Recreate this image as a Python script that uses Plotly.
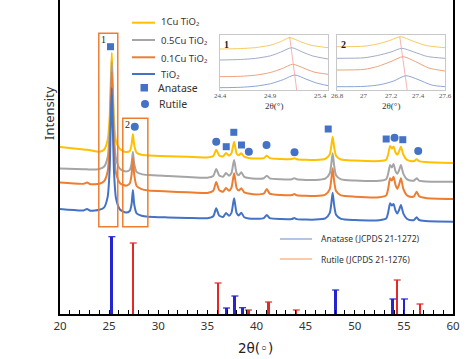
import plotly.graph_objects as go

# ---------------- data ----------------
TWO_THETA = [20, 22.4, 22.75, 23.1, 24.0, 24.5, 24.85, 25.05, 25.17, 25.27, 25.37, 25.5, 25.7, 26.1, 26.7,
             27.1, 27.28, 27.42, 27.56, 27.8, 28.3, 29, 31, 33,
             35.0, 35.6, 35.9, 36.2, 36.6, 36.9, 37.2, 37.45, 37.72, 37.98, 38.2, 38.45, 38.75, 39.2,
             40.0, 40.75, 41.05, 41.35, 42.5, 43.6, 43.85, 44.1, 46.0,
             47.0, 47.45, 47.6, 47.75, 47.9, 48.1, 48.6, 50, 52.5,
             53.2, 53.4, 53.6, 53.78, 53.95, 54.15, 54.33, 54.5, 54.7, 54.95, 55.3, 55.8,
             56.05, 56.3, 56.55, 57.2, 60]

CU1_TIO2 = [167, 164.5, 164.2, 163.8, 162.3, 164.5, 174, 196, 233, 261, 232, 193, 173, 165, 162,
            163, 169, 180, 168.5, 161.2, 159.2, 158.5, 157.8, 157.3,
            156.6, 158, 164.2, 158.5, 157.6, 161, 158.4, 160.7, 172.3, 160.5, 158.7, 160.8, 157.3, 156.1,
            155.5, 155.9, 158.3, 155.9, 155, 154.9, 155.8, 154.8, 154,
            155.1, 159.6, 167, 177.3, 167, 158.2, 154.5, 153.5, 153,
            154.3, 159.8, 168, 165.5, 167.3, 161.5, 159.2, 162.2, 167.3, 159.2, 154.3, 152.8,
            153, 154.8, 152.9, 152, 151]

CU05_TIO2 = [145.5, 144.8, 144.7, 144.4, 145, 147.5, 156.8, 180.6, 221.5, 252, 221, 178.2, 155.4, 145.2, 142.5,
             144.1, 150, 162.3, 149.8, 142.1, 139.9, 139, 138, 137,
             136.3, 138, 145, 138.6, 137.3, 141, 138.3, 141, 154, 140.8, 138.8, 141.7, 137.1, 135.9,
             135.3, 135.8, 138.3, 135.7, 134.8, 134.8, 135.8, 134.7, 134,
             135.3, 140.5, 148.8, 160.7, 148.7, 138.8, 134.6, 133.5, 133.2,
             134.7, 140.3, 149, 146.5, 150, 142.9, 140.2, 143.4, 149, 140.2, 134.9, 133.2,
             133.5, 135.7, 133.4, 132.6, 132.3]

CU01_TIO2 = [131.5, 130.2, 131.5, 129.8, 130.3, 132.9, 142.5, 167.4, 210, 242, 209.6, 164.7, 141.2, 130.9, 128.3,
             130.5, 139, 156, 138.8, 128, 124.9, 123.5, 122.5, 121.7,
             121.1, 123.2, 132, 123.9, 122.2, 126, 123.3, 126.2, 140.7, 125.9, 123.4, 125.7, 121.6, 120.5,
             119.6, 120.5, 125, 120.4, 119, 118.9, 120, 118.8, 118,
             119.3, 124.6, 133.4, 145.7, 133.3, 122.9, 118.6, 117.3, 116.8,
             118.6, 125.2, 135.7, 133.5, 137.3, 129, 125.2, 129, 135.7, 125.1, 118.8, 117.1,
             117.8, 122.3, 117.7, 116, 115]

TIO2 = [105, 103.6, 105, 103.2, 104.2, 106.7, 117.1, 144, 190.9, 226, 190.5, 141.4, 115.7, 104.5, 101.4,
        103, 109.5, 124, 109.3, 100.6, 98.3, 97.3, 96.6, 96.1,
        95.8, 97.7, 105.7, 98.4, 97, 101, 98.3, 101.1, 115.7, 101, 98.6, 101.3, 96.8, 95.6,
        95.2, 95.9, 99, 95.8, 94.9, 95, 96, 94.9, 94.4,
        95.6, 100.9, 109.2, 121.3, 109.1, 99.2, 95.1, 94, 93.8,
        95.4, 101.4, 110.7, 108.5, 110, 103.4, 100.5, 103.6, 109, 100.4, 95.3, 93.7,
        94.1, 96.7, 94, 93, 92.3]

SERIES_NAMES = ["1Cu TiO₂", "0.5Cu TiO₂", "0.1Cu TiO₂", "TiO₂"]

# phase markers above the patterns
ANATASE_MARK_X = [25.14, 36.92, 37.69, 38.47, 47.30, 53.20, 54.89]
ANATASE_MARK_Y = [267.3, 167.3, 181.7, 169, 185, 175, 174.3]
RUTILE_MARK_X = [27.61, 35.90, 39.22, 41.02, 43.87, 54.05, 56.46]
RUTILE_MARK_Y = [187.3, 172.3, 162.3, 169, 161.7, 176.3, 163]

# reference stick patterns
ANATASE_REF_POS = [25.28, 36.95, 37.80, 38.58, 48.05, 53.89, 55.06]
ANATASE_REF_INT = [77.3, 6, 18, 6.3, 24, 15, 15]
RUTILE_REF_POS = [27.45, 36.09, 39.19, 41.23, 44.05, 54.32, 56.64]
RUTILE_REF_INT = [71, 31, 4, 12, 4, 34, 10]

# inset 1 (anatase 101)
IN1_X = {
    "y": [24.4, 24.6, 24.75, 24.9, 25.0, 25.09, 25.2, 25.3, 25.47],
    "g": [24.4, 24.6, 24.75, 24.9, 25.0, 25.11, 25.22, 25.32, 25.47],
    "o": [24.4, 24.6, 24.75, 24.9, 25.02, 25.12, 25.23, 25.33, 25.47],
    "b": [24.4, 24.6, 24.75, 24.9, 25.03, 25.14, 25.25, 25.35, 25.47],
}
IN1_Y = {
    "y": [41, 41.4, 42.4, 44.8, 48.3, 52.3, 48.2, 44.8, 42.3],
    "g": [30, 30.5, 31.6, 34.2, 37.8, 42.3, 37.8, 34, 31],
    "o": [13.3, 13.7, 14.8, 17.5, 21.6, 25.7, 21.8, 18, 15.7],
    "b": [2.3, 2.7, 3.8, 6.3, 10.5, 15, 11, 7.2, 4.3],
}
IN1_SHIFT_X = [25.09, 25.16]
IN1_SHIFT_Y = [53.3, 0]
IN1_TICKS = [24.4, 24.9, 25.4]
IN1_TICKTEXT = ["24.4", "24.9", "25.4"]

# inset 2 (rutile 110)
IN2_X = {
    "y": [26.8, 27.0, 27.1, 27.19, 27.27, 27.36, 27.46, 27.6],
    "g": [26.8, 27.0, 27.1, 27.2, 27.28, 27.37, 27.47, 27.6],
    "o": [26.8, 27.0, 27.1, 27.2, 27.29, 27.38, 27.48, 27.6],
    "b": [26.8, 27.0, 27.12, 27.22, 27.31, 27.4, 27.5, 27.6],
}
IN2_Y = {
    "y": [43.3, 43.8, 46, 49.5, 53.3, 49, 44.5, 42.3],
    "g": [31.7, 32.2, 34.5, 38, 41.7, 38, 33.5, 31.7],
    "o": [20, 20.6, 23.5, 28.5, 33.3, 28.5, 22, 19],
    "b": [3.3, 3.6, 5.3, 9, 14.3, 10.5, 5, 3.3],
}
IN2_SHIFT_X = [27.265, 27.32]
IN2_SHIFT_Y = [53.3, 0]
IN2_TICKS = [26.8, 27, 27.2, 27.4, 27.6]
IN2_TICKTEXT = ["26.8", "27", "27.2", "27.4", "27.6"]

# ---------------- styling ----------------
W, H = 474, 359
ML, MR, MT, MB = 60, 21, 0, 45
PW, PH = W - ML - MR, H - MT - MB

COLORS = ["#FFC000", "#A5A5A5", "#ED7D31", "#4472C4"]
INSET_COLORS = {"y": "#F7CB62", "g": "#A3ACC8", "o": "#F0A27A", "b": "#8DA5D6"}
MARK_BLUE = "#4472C4"
BOX_ORANGE = "#ED7D31"
ANATASE_STICK = "#2424D0"
RUTILE_STICK = "#E42828"


def px_x(px):
    return (px - ML) / PW


def px_y(py):
    return (MT + PH - py) / PH


fig = go.Figure()

for vals, col in zip([CU1_TIO2, CU05_TIO2, CU01_TIO2, TIO2], COLORS):
    fig.add_trace(go.Scatter(x=TWO_THETA, y=vals, mode="lines",
                             line=dict(color=col, width=2, shape="spline", smoothing=0.6),
                             showlegend=False, hoverinfo="skip"))

fig.add_trace(go.Scatter(x=ANATASE_MARK_X, y=ANATASE_MARK_Y, mode="markers",
                         marker=dict(symbol="square", size=7, color=MARK_BLUE), showlegend=False))
fig.add_trace(go.Scatter(x=RUTILE_MARK_X, y=RUTILE_MARK_Y, mode="markers",
                         marker=dict(symbol="circle", size=8, color=MARK_BLUE), showlegend=False))

# reference sticks
fig.add_trace(go.Bar(x=ANATASE_REF_POS, y=ANATASE_REF_INT, width=0.2,
                     marker=dict(color=ANATASE_STICK, line=dict(width=0)), showlegend=False))
fig.add_trace(go.Bar(x=RUTILE_REF_POS, y=RUTILE_REF_INT, width=0.2,
                     marker=dict(color=RUTILE_STICK, line=dict(width=0)), showlegend=False))
fig.add_trace(go.Scatter(x=ANATASE_REF_POS, y=ANATASE_REF_INT, mode="markers",
                         marker=dict(symbol="line-ew", size=5, line=dict(color=ANATASE_STICK, width=1.2)),
                         showlegend=False))
fig.add_trace(go.Scatter(x=RUTILE_REF_POS, y=RUTILE_REF_INT, mode="markers",
                         marker=dict(symbol="line-ew", size=5, line=dict(color=RUTILE_STICK, width=1.2)),
                         showlegend=False))

# insets
for key in ["y", "g", "o", "b"]:
    fig.add_trace(go.Scatter(x=IN1_X[key], y=IN1_Y[key], mode="lines", xaxis="x2", yaxis="y2",
                             line=dict(color=INSET_COLORS[key], width=1, shape="spline", smoothing=0.7),
                             showlegend=False))
    fig.add_trace(go.Scatter(x=IN2_X[key], y=IN2_Y[key], mode="lines", xaxis="x3", yaxis="y3",
                             line=dict(color=INSET_COLORS[key], width=1, shape="spline", smoothing=0.7),
                             showlegend=False))
fig.add_trace(go.Scatter(x=IN1_SHIFT_X, y=IN1_SHIFT_Y, mode="lines", xaxis="x2", yaxis="y2",
                         line=dict(color="#F4A0A0", width=0.8), showlegend=False))
fig.add_trace(go.Scatter(x=IN2_SHIFT_X, y=IN2_SHIFT_Y, mode="lines", xaxis="x3", yaxis="y3",
                         line=dict(color="#F4A0A0", width=0.8), showlegend=False))

shapes = []
# highlight boxes
BOX1 = dict(x0=23.95, x1=25.88, y0=87.3, y1=280.7)
BOX2 = dict(x0=26.39, x1=28.94, y0=87.3, y1=195.7)
for b in (BOX1, BOX2):
    shapes.append(dict(type="rect", xref="x", yref="y", line=dict(color=BOX_ORANGE, width=1.5),
                       fillcolor="rgba(0,0,0,0)", **b))

annotations = []
FONT = "Noto Sans"
SERIF = "Liberation Serif"

# sample legend
leg_rows = [22.7, 40, 57.3, 74]
txt_rows = [22, 41, 58.5, 74.5]
for col, name, ly, ty in zip(COLORS, SERIES_NAMES, leg_rows, txt_rows):
    shapes.append(dict(type="line", xref="paper", yref="paper", x0=px_x(132), x1=px_x(155),
                       y0=px_y(ly), y1=px_y(ly), line=dict(color=col, width=2)))
    annotations.append(dict(xref="paper", yref="paper", x=px_x(159), y=px_y(ty), text=name,
                            showarrow=False, xanchor="left", yanchor="middle",
                            font=dict(family=FONT, size=9.5, color="#333333")))
shapes.append(dict(type="rect", xref="paper", yref="paper", x0=px_x(140.5), x1=px_x(148),
                   y0=px_y(91.5), y1=px_y(84), fillcolor=MARK_BLUE, line=dict(width=0)))
shapes.append(dict(type="circle", xref="paper", yref="paper", x0=px_x(141), x1=px_x(149),
                   y0=px_y(108), y1=px_y(100), fillcolor=MARK_BLUE, line=dict(width=0)))
annotations.append(dict(xref="paper", yref="paper", x=px_x(156), y=px_y(88), text="Anatase",
                        showarrow=False, xanchor="left", yanchor="middle",
                        font=dict(family=FONT, size=10.5, color="#333333")))
annotations.append(dict(xref="paper", yref="paper", x=px_x(156.5), y=px_y(104), text="Rutile",
                        showarrow=False, xanchor="left", yanchor="middle",
                        font=dict(family=FONT, size=10.5, color="#333333")))

# reference legend
for col, name, ly in [("#7F9FD8", "Anatase (JCPDS 21-1272)", 239), ("#F4A778", "Rutile (JCPDS 21-1276)", 259)]:
    shapes.append(dict(type="line", xref="paper", yref="paper", x0=px_x(280), x1=px_x(312),
                       y0=px_y(ly), y1=px_y(ly), line=dict(color=col, width=1.2)))
    annotations.append(dict(xref="paper", yref="paper", x=px_x(318.5), y=px_y(ly), text=name,
                            showarrow=False, xanchor="left", yanchor="middle",
                            font=dict(family=FONT, size=8.5, color="#333333")))

# box labels
annotations.append(dict(xref="x", yref="y", x=24.46, y=274.7, text="1", showarrow=False,
                        font=dict(family=SERIF, size=10, color="#222222")))
annotations.append(dict(xref="x", yref="y", x=26.9, y=189.7, text="2", showarrow=False,
                        font=dict(family=SERIF, size=10, color="#222222")))

# inset labels, tick texts and titles
annotations.append(dict(xref="x2 domain", yref="y2 domain", x=0.02, y=0.97, text="1", showarrow=False,
                        xanchor="left", yanchor="top",
                        font=dict(family=SERIF, size=10, color="#222222", weight="bold")))
annotations.append(dict(xref="x3 domain", yref="y3 domain", x=0.02, y=0.97, text="2", showarrow=False,
                        xanchor="left", yanchor="top",
                        font=dict(family=SERIF, size=10, color="#222222", weight="bold")))
for xr, ticks, labels in [("x2", IN1_TICKS, IN1_TICKTEXT), ("x3", IN2_TICKS, IN2_TICKTEXT)]:
    for tv, tt in zip(ticks, labels):
        annotations.append(dict(xref=xr, yref="paper", x=tv, y=px_y(95.5), text=tt, showarrow=False,
                                yanchor="middle", font=dict(family=SERIF, size=7, color="#555555")))
    annotations.append(dict(xref=xr + " domain", yref="paper", x=0.5, y=px_y(105.5), text="2θ(°)",
                            showarrow=False, font=dict(family=SERIF, size=9, color="#333333")))

# axis titles
annotations.append(dict(xref="paper", yref="paper", x=px_x(255), y=px_y(347.5), text="2θ(◦)", showarrow=False,
                        yanchor="middle", font=dict(family="DejaVu Sans", size=13.5, color="#222222")))
annotations.append(dict(xref="paper", yref="paper", x=px_x(38), y=px_y(113), text="Intensity", showarrow=False,
                        textangle=-90, font=dict(family=FONT, size=13, color="#333333")))

inset_axis = dict(showline=True, mirror=True, linecolor="#C8C8C8", linewidth=1, showgrid=False,
                  zeroline=False, ticks="", fixedrange=True, showticklabels=False)

fig.update_layout(
    width=W, height=H,
    margin=dict(l=ML, r=MR, t=MT, b=MB),
    paper_bgcolor="white", plot_bgcolor="white",
    barmode="overlay", bargap=0,
    showlegend=False,
    xaxis=dict(range=[20, 60], showline=True, linecolor="black", linewidth=2, mirror=False,
               showgrid=False, zeroline=False, tickmode="linear", tick0=20, dtick=5,
               ticks="inside", ticklen=4, tickwidth=1, tickcolor="black",
               minor=dict(dtick=1, ticks="inside", ticklen=4, tickwidth=1, tickcolor="black", showgrid=False),
               tickfont=dict(family=FONT, size=11.5, color="#333333")),
    yaxis=dict(range=[0, 314], showline=True, linecolor="black", linewidth=2, mirror=True,
               showgrid=False, zeroline=False, showticklabels=False, ticks=""),
    xaxis2=dict(domain=[px_x(220), px_x(328)], anchor="y2", range=[24.4, 25.47], **inset_axis),
    yaxis2=dict(domain=[px_y(90), px_y(35)], anchor="x2", range=[0, 55], **inset_axis),
    xaxis3=dict(domain=[px_x(337), px_x(445)], anchor="y3", range=[26.8, 27.6], **inset_axis),
    yaxis3=dict(domain=[px_y(90), px_y(35)], anchor="x3", range=[0, 55], **inset_axis),
    shapes=shapes,
    annotations=annotations,
)

fig.write_html("out.html", config={"displayModeBar": False},
               post_script="document.body.style.margin='0';document.body.style.padding='0';")
